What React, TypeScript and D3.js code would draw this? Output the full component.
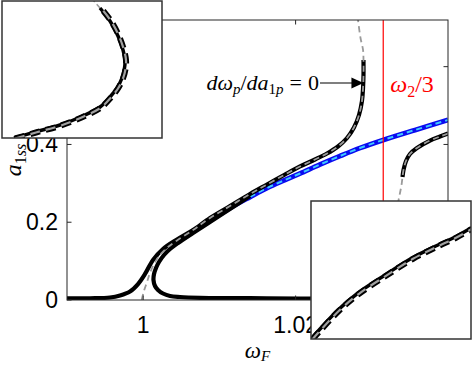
import React from 'react';
import * as d3 from 'd3';

const W = 474;
const H = 366;

// ---- main axis ticks ----
const xTicks = [1, 1.02];
const xTickLabels = ['1', '1.02'];
const yTicks = [0, 0.2, 0.4, 0.6];
const yTickLabels = ['0', '0.2', '0.4', '0.6'];

// ---- main curves (omega_F, a_1ss) ----
// branch rising from the left
const omegaA = [0.99, 0.99302, 0.99564, 0.99696, 0.99827, 0.99932, 1.00024, 1.00129, 1.0026, 1.00444, 1.00654, 1.00877, 1.01139, 1.01402, 1.01625, 1.01861, 1.02058, 1.02255, 1.02412, 1.02556, 1.02675, 1.02766, 1.02832, 1.02871, 1.02885, 1.02891, 1.02891];
const ampA = [0.004, 0.0045, 0.0064, 0.0116, 0.0219, 0.0411, 0.0669, 0.1029, 0.1311, 0.1556, 0.18, 0.2109, 0.2417, 0.2726, 0.297, 0.3227, 0.3433, 0.3613, 0.3767, 0.3947, 0.4166, 0.4436, 0.4757, 0.5117, 0.5451, 0.5786, 0.6171];

// lower branch from the right with the nose near omega = 1
const omegaB = [1.04, 1.03108, 1.02058, 1.01402, 1.00745, 1.00483, 1.00352, 1.0026, 1.00194, 1.00155, 1.00135, 1.00142, 1.00168, 1.00207, 1.00273, 1.00352, 1.00457, 1.00654, 1.00877, 1.01139, 1.01402];
const ampB = [0.003, 0.0036, 0.0039, 0.0046, 0.0057, 0.0077, 0.0103, 0.0167, 0.0257, 0.036, 0.0514, 0.0669, 0.0823, 0.0977, 0.1157, 0.1311, 0.1466, 0.1723, 0.2006, 0.234, 0.2674];

// dashed grey curve
const omegaDash = [0.9998, 1.0001, 1.0005, 1.00089, 1.00142, 1.0022, 1.00325, 1.00444, 1.00654, 1.00877, 1.01139, 1.01402, 1.01625, 1.01861, 1.02058, 1.02255, 1.02412, 1.02556, 1.02675, 1.02766, 1.02832, 1.02871, 1.02885, 1.02891, 1.02891, 1.02885, 1.02852, 1.02819, 1.02806];
const ampDash = [0, 0.0231, 0.0463, 0.0694, 0.0926, 0.1157, 0.1363, 0.153, 0.18, 0.2109, 0.2417, 0.2726, 0.297, 0.3227, 0.3433, 0.3613, 0.3767, 0.3947, 0.4166, 0.4436, 0.4757, 0.5117, 0.5451, 0.5786, 0.6171, 0.643, 0.6737, 0.72, 0.7406];

// right-hand branch beyond omega2/3
const omegaR = [1.04, 1.03895, 1.03764, 1.03593, 1.03501, 1.03449, 1.03416, 1.03403];
const ampR = [0.4281, 0.4204, 0.4101, 0.3909, 0.3754, 0.3574, 0.3343, 0.3163];
const omegaRTail = [1.0339, 1.0337, 1.03344, 1.03318];
const ampRTail = [0.2957, 0.2751, 0.2494, 0.2186];

// blue branch
const omegaBlue = [1.00614, 1.00877, 1.01139, 1.01402, 1.01625, 1.01861, 1.02058, 1.0232, 1.02583, 1.02845, 1.03147, 1.03567, 1.04];
const ampBlue = [0.171, 0.2044, 0.2366, 0.2649, 0.288, 0.3086, 0.3253, 0.3484, 0.3703, 0.3909, 0.4114, 0.4371, 0.4629];

const omega2Over3 = 1.0315;

// ---- top-left inset (turning point) ----
const in1OmegaSolid = [1.02812, 1.02833, 1.02858, 1.02883, 1.02898, 1.02908, 1.02915, 1.0292, 1.029225, 1.02923, 1.02921, 1.02916, 1.02908, 1.02898];
const in1AmpSolid = [0.562, 0.568, 0.575, 0.585, 0.593, 0.603, 0.612, 0.622, 0.632, 0.64, 0.65, 0.664, 0.679, 0.692];
const in1OmegaDash = [1.02813, 1.02834, 1.02859, 1.02884, 1.02899, 1.02909, 1.02916, 1.02921, 1.029237, 1.02924, 1.02922, 1.02917, 1.02909, 1.02899];
const in1AmpDash = [0.5615, 0.5675, 0.5745, 0.5845, 0.5925, 0.6025, 0.6115, 0.6215, 0.632, 0.64, 0.65, 0.664, 0.679, 0.692];
const in1OmegaTail = [1.02898, 1.02891];
const in1AmpTail = [0.692, 0.7];

// ---- bottom-right inset ----
const in2OmegaSolid = [1.034, 1.03409, 1.03427, 1.03447, 1.03474, 1.03501, 1.03527, 1.03544, 1.0356];
const in2AmpSolid = [0.3, 0.31, 0.329, 0.346, 0.364, 0.381, 0.394, 0.402, 0.411];
const in2OmegaDash = [1.03401, 1.0341, 1.03428, 1.03448, 1.03475, 1.03502, 1.03528, 1.03545, 1.03561];
const in2AmpDash = [0.2992, 0.3092, 0.3282, 0.3452, 0.3632, 0.3802, 0.3932, 0.4012, 0.4102];

const zip = (xs: number[], ys: number[]) => xs.map((v, i) => [v, ys[i]] as [number, number]);

const SERIF = "'Liberation Serif', 'DejaVu Serif', serif";
const SANS = "'Liberation Sans', Arial, sans-serif";
const AX = '#262626';

export default function App() {
  const x = d3.scaleLinear().domain([0.99, 1.04]).range([67, 448]);
  const y = d3.scaleLinear().domain([0, 0.72]).range([300, 20]);
  const line = d3
    .line<[number, number]>()
    .x((d) => x(d[0]))
    .y((d) => y(d[1]))
    .curve(d3.curveCatmullRom.alpha(0.5));

  const x1 = d3.scaleLinear().domain([1.028, 1.0296]).range([2, 162]);
  const y1 = d3.scaleLinear().domain([0.562, 0.699]).range([138, 1]);
  const line1 = d3
    .line<[number, number]>()
    .x((d) => x1(d[0]))
    .y((d) => y1(d[1]))
    .curve(d3.curveCatmullRom.alpha(0.5));

  const x2 = d3.scaleLinear().domain([1.034, 1.0356]).range([311, 471]);
  const y2 = d3.scaleLinear().domain([0.3, 0.438]).range([339, 201]);
  const line2 = d3
    .line<[number, number]>()
    .x((d) => x2(d[0]))
    .y((d) => y2(d[1]))
    .curve(d3.curveCatmullRom.alpha(0.5));

  const dA = line(zip(omegaA, ampA)) || '';
  const dB = line(zip(omegaB, ampB)) || '';
  const dDash = line(zip(omegaDash, ampDash)) || '';
  const dR = line(zip(omegaR, ampR)) || '';
  const dRDash = line(zip(omegaR.concat(omegaRTail), ampR.concat(ampRTail))) || '';
  const dBlue = line(zip(omegaBlue, ampBlue)) || '';

  const [xl, xr] = x.range();
  const [yb, yt] = y.range();
  const arrowY = y(0.558);
  const arrowTipX = x(1.0289);
  const arrowStartX = x(1.0232);

  return (
    <svg width={W} height={H} style={{ position: 'absolute', left: 0, top: 0, background: '#fff' }}>
      <defs>
        <clipPath id="mainClip">
          <rect x={xl} y={yt} width={xr - xl} height={yb - yt} />
        </clipPath>
        <clipPath id="in1Clip">
          <rect x={2} y={1} width={160} height={137} />
        </clipPath>
        <clipPath id="in2Clip">
          <rect x={311} y={201} width={160} height={138} />
        </clipPath>
      </defs>

      {/* main curves */}
      <g clipPath="url(#mainClip)" fill="none" strokeLinecap="butt" strokeLinejoin="round">
        <path d={dBlue} stroke="#0a0af0" strokeWidth={5} />
        <path d={dBlue} stroke="#3ec8ff" strokeWidth={2} strokeDasharray="6 4" />
        <path d={dB} stroke="#000" strokeWidth={4.2} />
        <path d={dA} stroke="#000" strokeWidth={4.2} />
        <path d={dR} stroke="#000" strokeWidth={4.2} />
        <path d={dDash} stroke="#9a9a9a" strokeWidth={1.8} strokeDasharray="6 4" />
        <path d={dRDash} stroke="#9a9a9a" strokeWidth={1.8} strokeDasharray="6 4" />
        <line x1={x(omega2Over3)} x2={x(omega2Over3)} y1={yt} y2={yb} stroke="#ff0000" strokeWidth={1.2} />
      </g>

      {/* axes box */}
      <rect x={xl} y={yt} width={xr - xl} height={yb - yt} fill="none" stroke={AX} strokeWidth={1} />
      {xTicks.map((t) => (
        <g key={'xt' + t}>
          <line x1={x(t)} x2={x(t)} y1={yb} y2={yb - 4.5} stroke={AX} />
          <line x1={x(t)} x2={x(t)} y1={yt} y2={yt + 4.5} stroke={AX} />
        </g>
      ))}
      {yTicks.map((t) => (
        <g key={'yt' + t}>
          <line x1={xl} x2={xl + 4.5} y1={y(t)} y2={y(t)} stroke={AX} />
          <line x1={xr} x2={xr - 4.5} y1={y(t)} y2={y(t)} stroke={AX} />
        </g>
      ))}
      {xTicks.map((t, i) => (
        <text key={'xl' + t} x={x(t)} y={yb + 33} textAnchor="middle" fontFamily={SANS} fontSize={23} fill="#000">
          {xTickLabels[i]}
        </text>
      ))}
      {yTicks.map((t, i) => (
        <text key={'yl' + t} x={xl - 9} y={y(t) + 8} textAnchor="end" fontFamily={SANS} fontSize={23} fill="#000">
          {yTickLabels[i]}
        </text>
      ))}

      {/* annotation */}
      <line x1={arrowStartX} x2={arrowTipX - 11} y1={arrowY} y2={arrowY} stroke="#000" strokeWidth={1.2} />
      <path
        d={`M${arrowTipX},${arrowY} L${arrowTipX - 12},${arrowY - 5.5} L${arrowTipX - 12},${arrowY + 5.5} Z`}
        fill="#000"
      />
      <text x={arrowStartX - 1} y={90} textAnchor="end" fontFamily={SERIF} fontSize={22} fill="#000">
        <tspan fontStyle="italic">dω</tspan>
        <tspan fontStyle="italic" fontSize={15} dy={4}>p</tspan>
        <tspan dy={-4}>/</tspan>
        <tspan fontStyle="italic">da</tspan>
        <tspan fontSize={15} dy={4}>1</tspan>
        <tspan fontStyle="italic" fontSize={15}>p</tspan>
        <tspan dy={-4} dx={6}>=</tspan>
        <tspan dx={6}>0</tspan>
      </text>
      <text x={x(omega2Over3) + 7} y={92} fontFamily={SERIF} fontSize={24} fill="#ff0000">
        <tspan fontStyle="italic">ω</tspan>
        <tspan fontSize={16} dy={5}>2</tspan>
        <tspan dy={-5}>/3</tspan>
      </text>

      {/* axis labels */}
      <text transform={`translate(21,${(yt + yb) / 2}) rotate(-90)`} textAnchor="middle" fontFamily={SERIF} fontSize={24} fill="#000">
        <tspan fontStyle="italic">a</tspan>
        <tspan fontSize={16} dy={5}>1</tspan>
        <tspan fontStyle="italic" fontSize={16}>ss</tspan>
      </text>
      <text x={(xl + xr) / 2} y={358} textAnchor="middle" fontFamily={SERIF} fontSize={23} fill="#000">
        <tspan fontStyle="italic">ω</tspan>
        <tspan fontStyle="italic" fontSize={15} dy={3}>F</tspan>
      </text>

      {/* inset 1: top-left */}
      <rect x={2} y={1} width={160} height={137} fill="#fff" />
      <g clipPath="url(#in1Clip)" fill="none">
        <path d={line1(zip(in1OmegaTail, in1AmpTail)) || ''} stroke="#9a9a9a" strokeWidth={1.5} strokeDasharray="5 3" />
        <path d={line1(zip(in1OmegaSolid, in1AmpSolid)) || ''} stroke="#000" strokeWidth={3.5} />
        <path d={line1(zip(in1OmegaDash, in1AmpDash)) || ''} stroke="#000" strokeWidth={6} strokeDasharray="10 6" />
        <path d={line1(zip(in1OmegaDash, in1AmpDash)) || ''} stroke="#a0a0a0" strokeWidth={2.2} strokeDasharray="10 6" />
      </g>
      <rect x={2} y={1} width={160} height={137} fill="none" stroke="#333" strokeWidth={1.5} />

      {/* inset 2: bottom-right */}
      <rect x={311} y={201} width={160} height={138} fill="#fff" />
      <g clipPath="url(#in2Clip)" fill="none">
        <path d={line2(zip(in2OmegaSolid, in2AmpSolid)) || ''} stroke="#000" strokeWidth={3.5} />
        <path d={line2(zip(in2OmegaDash, in2AmpDash)) || ''} stroke="#000" strokeWidth={6} strokeDasharray="10 6" />
        <path d={line2(zip(in2OmegaDash, in2AmpDash)) || ''} stroke="#a0a0a0" strokeWidth={2.2} strokeDasharray="10 6" />
      </g>
      <rect x={311} y={201} width={160} height={138} fill="none" stroke="#333" strokeWidth={1.5} />
    </svg>
  );
}
